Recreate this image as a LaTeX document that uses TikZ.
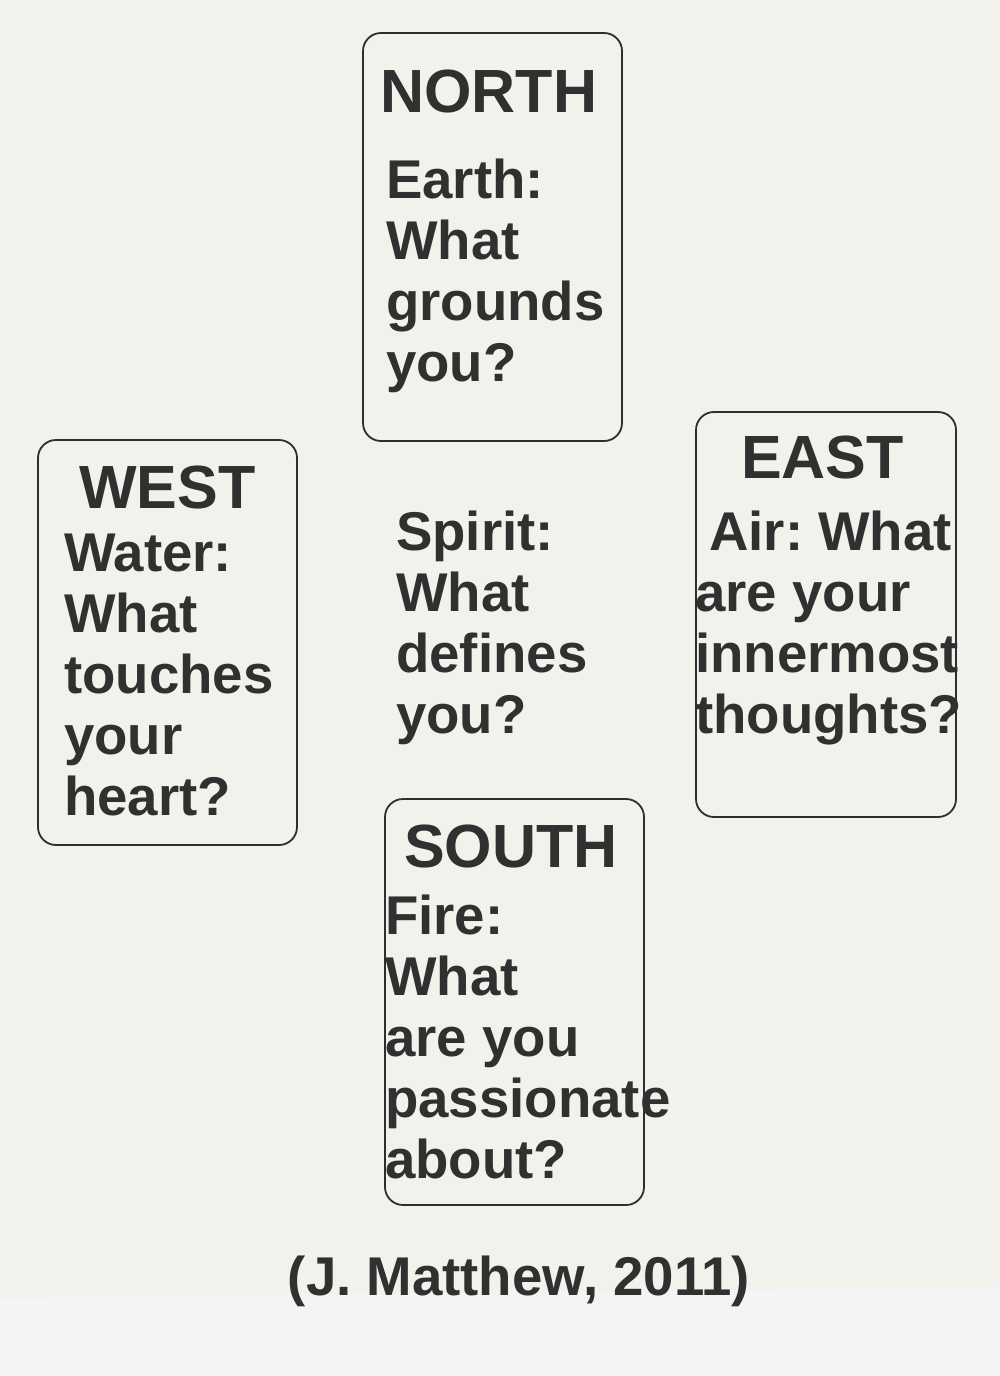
\documentclass[tikz,border=0pt]{standalone}
\usepackage{fontspec}
\setmainfont{Liberation Sans}
\begin{document}
\begin{tikzpicture}[x=1pt,y=-1pt,
  card/.style={draw=inkline, line width=1.8pt, rounded corners=18pt, inner sep=0pt},
  head/.style={anchor=base west, inner sep=0pt, text=inktext, font=\fontsize{61}{61}\selectfont\bfseries},
  body/.style={anchor=base west, inner sep=0pt, text=inktext, align=left, font=\fontsize{54.6}{61}\selectfont\bfseries\frenchspacing},
]
\definecolor{paper}{HTML}{F3F1EC}
\definecolor{paperlow}{HTML}{F3F5F5}
\definecolor{inkline}{HTML}{2E2E2E}
\definecolor{inktext}{HTML}{303030}
\useasboundingbox (0,0) rectangle (1000,1376);
\fill[paper] (0,0) rectangle (1000,1376);
\fill[paperlow] (0,1298) -- (1000,1287) -- (1000,1376) -- (0,1376) -- cycle;

% cards
\draw[card] (363,33) rectangle (622,441);
\draw[card] (38,440) rectangle (297,845);
\draw[card] (696,412) rectangle (956,817);
\draw[card] (385,799) rectangle (644,1205);

% headings
\node[head] (nhead) at (380,112) {NORTH};
\node[head] (whead) at (79,508) {WEST};
\node[head] (ehead) at (741,478) {EAST};
\node[head] (shead) at (404,867) {SOUTH};

% texts (anchor = baseline of the last line)
\node[body] (ntext) at (386,381) {Earth:\\What\\grounds\\you?};
\node[body] (wtext) at (64,815) {Water:\\What\\touches\\your\\heart?};
\node[body] (etext) at (695,733) {\hspace*{14pt}Air: What\\are your\\innermost\\thoughts?};
\node[body] (stext) at (385,1178) {Fire:\\What\\are you\\passionate\\about?};
\node[body] (ctext) at (396,733) {Spirit:\\What\\defines\\you?};

\node[body, anchor=base] (cite) at (519,1295) {(J. Matthew, 2011)};
\end{tikzpicture}
\end{document}
